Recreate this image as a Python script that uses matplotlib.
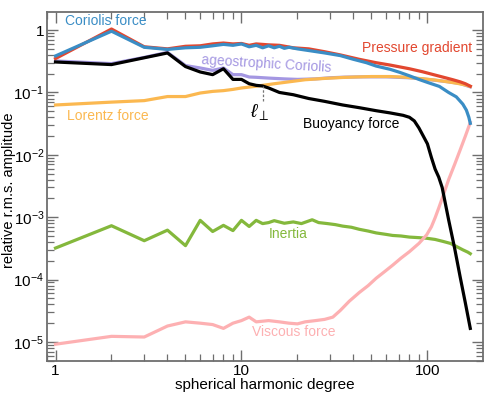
import numpy as np
import matplotlib
matplotlib.use('Agg')
import matplotlib.pyplot as plt
from matplotlib.ticker import LogLocator, FixedLocator, FixedFormatter, NullFormatter

plt.rcParams['font.family'] = ['Liberation Sans', 'DejaVu Sans']
plt.rcParams['mathtext.fontset'] = 'custom'
plt.rcParams['mathtext.rm'] = 'Liberation Sans'
plt.rcParams['mathtext.it'] = 'Liberation Sans:italic'

# ---- data ----
l_low = [1, 2, 3, 4, 5, 6, 7, 8, 9, 10, 11, 12]

l_cor = l_low + [13, 14, 15, 16, 17, 18, 20, 23, 28, 34, 40, 47, 53, 63, 71, 80, 91,
                 100, 116, 130, 143, 155, 162, 167, 170]
coriolis = [0.385, 0.96, 0.53, 0.49, 0.52, 0.53, 0.56, 0.59, 0.57, 0.6, 0.54, 0.57,
            0.52, 0.56, 0.52, 0.55, 0.51, 0.53, 0.5, 0.47, 0.43, 0.39, 0.34, 0.3, 0.265,
            0.235, 0.21, 0.185, 0.16, 0.145, 0.125, 0.1, 0.085, 0.065, 0.052, 0.04, 0.032]

l_pre = l_low + [14, 16, 19, 23, 28, 34, 43, 53, 63, 80, 94, 110, 125, 137, 150, 160, 170]
pressure = [0.35, 1.04, 0.54, 0.5, 0.55, 0.56, 0.6, 0.62, 0.6, 0.61, 0.57, 0.6,
            0.58, 0.57, 0.52, 0.5, 0.45, 0.4, 0.34, 0.3, 0.275, 0.24, 0.215, 0.19, 0.172,
            0.16, 0.148, 0.138, 0.126]

l_buo = l_low + [13, 14, 16, 19, 23, 28, 35, 43, 53, 63, 74, 80, 85, 90, 95, 100, 105,
                 110, 115, 120, 130, 140, 150, 160, 170]
buoyancy = [0.308, 0.28, 0.36, 0.43, 0.26, 0.213, 0.193, 0.24, 0.162, 0.162, 0.138, 0.13,
            0.127, 0.118, 0.1, 0.092, 0.08, 0.072, 0.063, 0.057, 0.051, 0.047, 0.043,
            0.04, 0.035, 0.027, 0.02, 0.015, 0.0091, 0.0059, 0.0044, 0.003, 9.1e-4,
            3.2e-4, 1.1e-4, 4.2e-5, 1.65e-5]

l_ageo = l_low + [14, 17, 20, 25, 30, 36, 45, 60, 80, 100, 130, 150, 170]
ageo = [0.32, 0.29, 0.365, 0.44, 0.27, 0.247, 0.226, 0.247, 0.193, 0.193, 0.177, 0.175,
        0.17, 0.165, 0.162, 0.165, 0.172, 0.176, 0.178, 0.178, 0.172, 0.162, 0.148,
        0.139, 0.123]

l_lor = l_low + [13, 15, 18, 22, 28, 35, 41, 50, 63, 75, 94, 110, 125, 143, 160, 170]
lorentz = [0.063, 0.07, 0.074, 0.086, 0.086, 0.098, 0.104, 0.107, 0.112, 0.118, 0.122,
           0.126, 0.13, 0.138, 0.148, 0.16, 0.168, 0.174, 0.177, 0.18, 0.18, 0.176,
           0.166, 0.158, 0.15, 0.141, 0.132, 0.125]

l_ine = l_low + [13, 14, 15, 17, 19, 21, 24, 26, 29, 32, 35, 39, 43, 48, 53, 60, 65, 72,
                 80, 90, 99, 110, 121, 133, 143, 155, 165, 170]
inertia = [3.2e-4, 7.3e-4, 4.2e-4, 6.2e-4, 3.5e-4, 8.9e-4, 5.9e-4, 7.4e-4, 6.1e-4,
           8.9e-4, 7.1e-4, 8.9e-4, 7.9e-4, 8.2e-4, 8.8e-4, 8.0e-4, 8.4e-4, 7.9e-4,
           9.1e-4, 8.2e-4, 7.9e-4, 7.6e-4, 7.2e-4, 6.9e-4, 6.4e-4, 6.0e-4, 5.6e-4,
           5.3e-4, 5.1e-4, 5.0e-4, 4.8e-4, 4.7e-4, 4.6e-4, 4.4e-4, 4.1e-4, 3.8e-4,
           3.4e-4, 3.0e-4, 2.75e-4, 2.6e-4]

l_vis = l_low + [14, 16, 18, 20, 22, 25, 28, 31, 34, 38, 43, 48, 53, 59, 65, 72, 80, 90,
                 99, 105, 110, 115, 120, 130, 140, 150, 160, 170]
viscous = [9.2e-6, 1.23e-5, 1.2e-5, 1.8e-5, 2.1e-5, 2.0e-5, 1.9e-5, 1.65e-5, 2.0e-5,
           2.2e-5, 2.5e-5, 2.1e-5, 2.2e-5, 2.1e-5, 2.0e-5, 1.95e-5, 2.1e-5, 2.2e-5,
           2.3e-5, 2.5e-5, 3.2e-5, 4.5e-5, 6.2e-5, 8.0e-5, 1.05e-4, 1.35e-4, 1.7e-4,
           2.2e-4, 2.8e-4, 3.8e-4, 5.2e-4, 7.0e-4, 9.8e-4, 1.4e-3, 2.0e-3, 4.0e-3,
           7.0e-3, 1.2e-2, 2.0e-2, 3.3e-2]

l_perp = 13

c_cor = '#3a8dc5'
c_pre = '#e2472f'
c_ageo = '#a497e2'
c_lor = '#fbb850'
c_ine = '#84b83c'
c_vis = '#fdb0b2'
c_buo = 'black'

fig = plt.figure(figsize=(4.91, 3.95), dpi=100)
ax = fig.add_axes([47 / 491, 1 - 361 / 395, 436 / 491, 349 / 395])

lw = 2.3
ax.plot(l_ine, inertia, color=c_ine, lw=lw)
ax.plot(l_vis, viscous, color=c_vis, lw=lw)
ax.plot(l_ageo, ageo, color=c_ageo, lw=lw)
ax.plot(l_lor, lorentz, color=c_lor, lw=lw)
ax.plot(l_pre, pressure, color=c_pre, lw=lw)
ax.plot(l_cor, coriolis, color=c_cor, lw=lw)
ax.plot(l_buo, buoyancy, color=c_buo, lw=lw)

# l_perp marker
ax.plot([l_perp, l_perp], [0.074, 0.128], color='#777777', lw=0.9, ls=(0, (2, 1.5)))
ax.text(11.1, 0.048, r'$\ell_\perp$', fontsize=14, ha='left', va='center')

fs = 10
ax.text(1.12, 1.40, 'Coriolis force', color=c_cor, fontsize=fs, va='center')
ax.text(173, 0.51, 'Pressure gradient', color=c_pre, fontsize=fs, va='center', ha='right')
ax.text(6.1, 0.33, 'ageostrophic Coriolis', color=c_ageo, fontsize=fs, va='center',
        rotation=-3.5, rotation_mode='anchor')
ax.text(1.16, 0.0426, 'Lorentz force', color=c_lor, fontsize=fs, va='center')
ax.text(21.3, 0.0316, 'Buoyancy force', color='black', fontsize=fs, va='center')
ax.text(14.0, 5.3e-4, 'Inertia', color=c_ine, fontsize=fs, va='center')
ax.text(11.4, 1.45e-5, 'Viscous force', color=c_vis, fontsize=fs, va='center')

ax.set_xscale('log')
ax.set_yscale('log')
ax.set_xlim(0.9, 199)
ax.set_ylim(4.95e-6, 1.95)

ax.xaxis.set_major_locator(FixedLocator([1, 10, 100]))
ax.xaxis.set_major_formatter(FixedFormatter(['1', '10', '100']))
ax.xaxis.set_minor_locator(LogLocator(base=10, subs=np.arange(2, 10)))
ax.xaxis.set_minor_formatter(NullFormatter())
ax.yaxis.set_major_locator(FixedLocator([1e-5, 1e-4, 1e-3, 1e-2, 1e-1, 1]))
ax.yaxis.set_major_formatter(FixedFormatter([r'$10^{-5}$', r'$10^{-4}$', r'$10^{-3}$',
                                             r'$10^{-2}$', r'$10^{-1}$', '1']))
ax.yaxis.set_minor_locator(LogLocator(base=10, subs=np.arange(2, 10)))
ax.yaxis.set_minor_formatter(NullFormatter())

gray = '#6e6e6e'
for s in ax.spines.values():
    s.set_color(gray)
    s.set_linewidth(1.3)
ax.tick_params(which='both', direction='in', top=True, right=True, color=gray,
               labelsize=11, pad=2)
ax.tick_params(which='major', length=8, width=1.0)
ax.tick_params(which='minor', length=5, width=0.9)

ax.set_xlabel('spherical harmonic degree', fontsize=11, labelpad=0)
# y label placed in figure pixels so it is not cut at the left edge
fig.text(9 / 491, 1 - 190 / 395, 'relative r.m.s. amplitude', fontsize=10.5,
         rotation=90, ha='center', va='center')

fig.savefig('out.png', dpi=100)
